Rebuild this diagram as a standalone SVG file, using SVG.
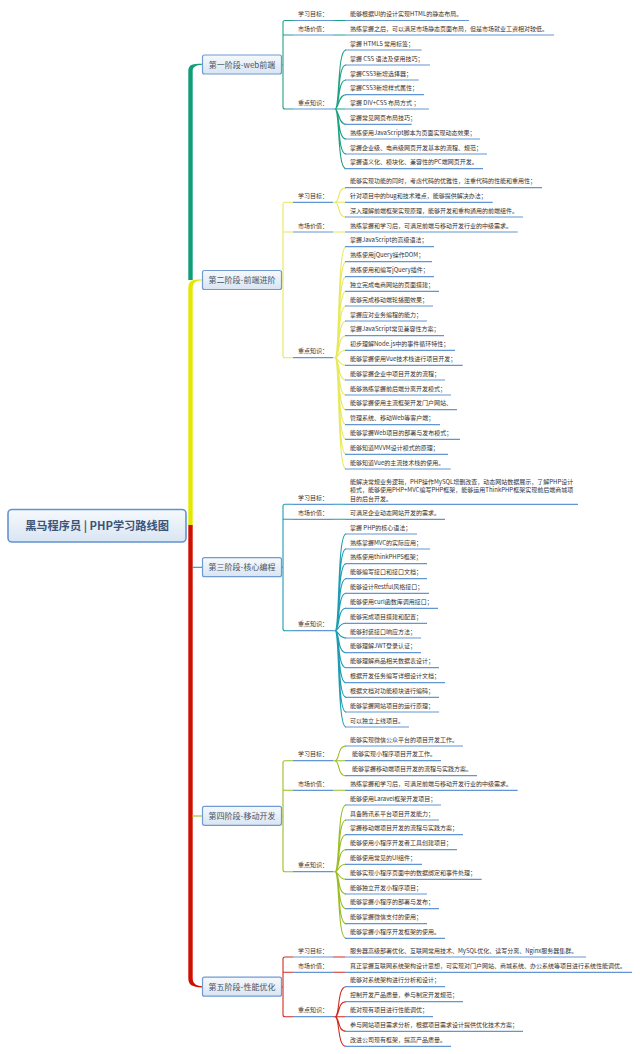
<svg xmlns="http://www.w3.org/2000/svg" width="640" height="1054" viewBox="0 0 640 1054">
<defs>
<linearGradient id="gn" x1="0" y1="0" x2="0" y2="1"><stop offset="0" stop-color="#f6f9fc"/><stop offset="1" stop-color="#d9e5f3"/></linearGradient>
</defs>
<style>
text{font-family:"Noto Sans CJK SC","Liberation Sans",sans-serif;font-size:6px;fill:#333}
.st{font-size:8px;fill:#44546a;text-anchor:middle}
.root{font-size:11.2px;font-weight:700;fill:#3b5478;text-anchor:middle}
.u{fill:none;stroke:#6295d4;stroke-width:1.2}
.box{fill:url(#gn);stroke:#6f9ad2;stroke-width:1.2}
.c{fill:none;stroke-width:1.1}
.c1{stroke:#1fa283}.c2{stroke:#e8e85c}.c3{stroke:#1c9db3}.c4{stroke:#9dbd24}.c5{stroke:#cf2a22}
</style>
<g id="connectors">
<path fill="#0f9e78" d="M202 63.8C195 63.8 188.3 63.5 188.3 71V280H192.7V71C192.7 67 196 65 202 64.8Z"/>
<path fill="#e4e800" d="M202 279.6C196 279.6 188.3 279 188.3 288V525H192.7V288C192.7 283 196 280.6 202 280.6Z"/>
<path fill="#cf1000" d="M188.3 525V978C188.3 985 192 987 202 987.4V986.2C196 985.6 192.7 984 192.7 978V525Z"/>
<path class="c c3" d="M192 567.3H202"/>
<path class="c c4" d="M192 816C196 816 198 816 202 816"/>
<g class="c c1">
<path d="M282 65H283M293 20.5H285Q283 20.5 283 22.5V107Q283 109 285 109H293M283 35H293M333 20.5H345M333 35H345"/>
<path d="M333 109H345M335 109C340 109 337 50 346 50M335 109C340 109 337 65 346 65M335 109C340 109 337 80 346 80M335 109C339 109 338 94.7 346 94.7M335 109C339 109 338 124.3 346 124.3M335 109C340 109 337 139 346 139M335 109C340 109 337 154 346 154M335 109C340 109 337 168.7 346 168.7"/>
</g>
<g class="c c2">
<path d="M282 280H283M293 202.3H285Q283 202.3 283 204.3V355.7Q283 357.7 285 357.7H293M283 232H293M333 232H345M333 202.3H345"/>
<path d="M335 202.3C340 202.3 337 187.7 346 187.7M335 202.3C340 202.3 337 217 346 217"/>
<path d="M333 357.7H336M335 357.7C340 357.7 337 246.7 346 246.7M335 357.7C340 357.7 337 261.7 346 261.7M335 357.7C340 357.7 337 276.7 346 276.7M335 357.7C340 357.7 337 291.3 346 291.3M335 357.7C340 357.7 337 306 346 306M335 357.7C340 357.7 337 321 346 321M335 357.7C340 357.7 337 335.7 346 335.7M335 357.7C339 357.7 338 350.3 346 350.3M335 357.7C339 357.7 338 365.3 346 365.3M335 357.7C340 357.7 337 380 346 380M335 357.7C340 357.7 337 395 346 395M335 357.7C340 357.7 337 409.7 346 409.7M335 357.7C340 357.7 337 424.7 346 424.7M335 357.7C340 357.7 337 439.3 346 439.3M335 357.7C340 357.7 337 454.3 346 454.3M335 357.7C340 357.7 337 469 346 469"/>
</g>
<g class="c c3">
<path d="M282 567.3H283M293 504.3H285Q283 504.3 283 506.3V628.7Q283 630.7 285 630.7H293M283 519.3H293M333 504.3H345M333 519.3H345"/>
<path d="M333 630.7H336M335 630.7C340 630.7 337 534 346 534M335 630.7C340 630.7 337 549 346 549M335 630.7C340 630.7 337 563.7 346 563.7M335 630.7C340 630.7 337 578.7 346 578.7M335 630.7C340 630.7 337 593.3 346 593.3M335 630.7C340 630.7 337 608.3 346 608.3M335 630.7C339 630.7 338 623.3 346 623.3M335 630.7C339 630.7 338 638 346 638M335 630.7C340 630.7 337 652.7 346 652.7M335 630.7C340 630.7 337 667.7 346 667.7M335 630.7C340 630.7 337 682.7 346 682.7M335 630.7C340 630.7 337 697.3 346 697.3M335 630.7C340 630.7 337 712 346 712M335 630.7C340 630.7 337 727 346 727"/>
</g>
<g class="c c4">
<path d="M282 816H283M293 760.7H285Q283 760.7 283 762.7V869.7Q283 871.7 285 871.7H293M283 790.3H293M333 760.7H345M333 790.3H345"/>
<path d="M335 760.7C340 760.7 337 746 346 746M335 760.7C340 760.7 337 775.7 346 775.7"/>
<path d="M333 871.7H336M335 871.7C340 871.7 337 805 346 805M335 871.7C340 871.7 337 820 346 820M335 871.7C340 871.7 337 834.7 346 834.7M335 871.7C340 871.7 337 849.7 346 849.7M335 871.7C339 871.7 338 864.3 346 864.3M335 871.7C339 871.7 338 879.3 346 879.3M335 871.7C340 871.7 337 894 346 894M335 871.7C340 871.7 337 908.7 346 908.7M335 871.7C340 871.7 337 923.7 346 923.7M335 871.7C340 871.7 337 938.3 346 938.3"/>
</g>
<g class="c c5">
<path d="M282 987H283M293 957H285Q283 957 283 959V1014.7Q283 1016.7 285 1016.7H293M283 972.3H293M333 957H345M333 972.3H345"/>
<path d="M333 1016.7H345M335 1016.7C340 1016.7 337 986.7 346 986.7M335 1016.7C340 1016.7 337 1001.7 346 1001.7M335 1016.7C340 1016.7 337 1031.3 346 1031.3M335 1016.7C340 1016.7 337 1046.3 346 1046.3"/>
</g>
</g>
<g id="root"><rect x="8" y="509.5" width="178" height="32.5" rx="4" fill="url(#gn)" stroke="#6293d0" stroke-width="1.6"/><text class="root" x="97" y="530">黑马程序员 | PHP学习路线图</text></g>

<g id="s1"><rect class="box" x="202.5" y="55" width="79" height="19" rx="2"/><text class="st" x="242" y="67.8">第一阶段-web前端</text></g>
<g id="s1-goal"><text x="298" y="16.2">学习目标：</text><path class="u" d="M293 20.5H333"/></g>
<g id="s1-goal-1"><text x="350" y="16.2">能够根据UI的设计实现HTML的静态布局。</text><path class="u" d="M345 20.5H469"/></g>
<g id="s1-market"><text x="298" y="30.7">市场价值：</text><path class="u" d="M293 35H333"/></g>
<g id="s1-market-1"><text x="350" y="30.7">熟练掌握之后，可以满足市场静态页面布局，但是市场就业工资相对较低。</text><path class="u" d="M345 35H554"/></g>
<g id="s1-key"><text x="298" y="104.7">重点知识：</text><path class="u" d="M293 109H333"/></g>
<g id="s1-k1"><text x="350" y="45.7">掌握 HTML5 常用标签；</text><path class="u" d="M345 50H421.7"/></g>
<g id="s1-k2"><text x="350" y="60.7">掌握 CSS 语法及使用技巧；</text><path class="u" d="M345 65H430"/></g>
<g id="s1-k3"><text x="350" y="75.7">掌握CSS3新增选择器；</text><path class="u" d="M345 80H418.7"/></g>
<g id="s1-k4"><text x="350" y="90.4">掌握CSS3新增样式属性；</text><path class="u" d="M345 94.7H424"/></g>
<g id="s1-k5"><text x="350" y="104.7">掌握 DIV+CSS 布局方式 ；</text><path class="u" d="M345 109H429"/></g>
<g id="s1-k6"><text x="350" y="120">掌握常见网页布局技巧；</text><path class="u" d="M345 124.3H411.7"/></g>
<g id="s1-k7"><text x="350" y="134.7">熟练使用JavaScript脚本为页面实现动态效果；</text><path class="u" d="M345 139H480"/></g>
<g id="s1-k8"><text x="350" y="149.7">掌握企业级、电商级网页开发基本的流程、规范；</text><path class="u" d="M345 154H487"/></g>
<g id="s1-k9"><text x="350" y="164.4">掌握语义化、模块化、兼容性的PC端网页开发。</text><path class="u" d="M345 168.7H483"/></g>

<g id="s2"><rect class="box" x="202.5" y="270.5" width="79" height="19" rx="2"/><text class="st" x="242" y="283">第二阶段-前端进阶</text></g>
<g id="s2-goal"><text x="298" y="198">学习目标：</text><path class="u" d="M293 202.3H333"/></g>
<g id="s2-goal-1"><text x="350" y="183.4">能够实现功能的同时，考虑代码的优雅性，注重代码的性能和重用性；</text><path class="u" d="M345 187.7H542"/></g>
<g id="s2-goal-2"><text x="350" y="198">针对项目中的bug和技术难点，能够提供解决办法；</text><path class="u" d="M345 202.3H492.7"/></g>
<g id="s2-goal-3"><text x="350" y="212.7">深入理解前端框架实现原理，能够开发和重构通用的前端组件。</text><path class="u" d="M345 217H523"/></g>
<g id="s2-market"><text x="298" y="227.7">市场价值：</text><path class="u" d="M293 232H333"/></g>
<g id="s2-market-1"><text x="350" y="227.7">熟练掌握和学习后，可满足前端与移动开发行业的中级需求。</text><path class="u" d="M345 232H517.7"/></g>
<g id="s2-key"><text x="298" y="353.4">重点知识：</text><path class="u" d="M293 357.7H333"/></g>
<g id="s2-k1"><text x="350" y="242.4">掌握JavaScript的高级语法；</text><path class="u" d="M345 246.7H434"/></g>
<g id="s2-k2"><text x="350" y="257.4">熟练使用jQuery操作DOM；</text><path class="u" d="M345 261.7H432"/></g>
<g id="s2-k3"><text x="350" y="272.4">熟练使用和编写jQuery插件；</text><path class="u" d="M345 276.7H434"/></g>
<g id="s2-k4"><text x="350" y="287">独立完成电商网站的页面搭建；</text><path class="u" d="M345 291.3H439"/></g>
<g id="s2-k5"><text x="350" y="301.7">能够完成移动端轮播图效果；</text><path class="u" d="M345 306H433"/></g>
<g id="s2-k6"><text x="350" y="316.7">掌握应对业务编程的能力；</text><path class="u" d="M345 321H427"/></g>
<g id="s2-k7"><text x="350" y="331.4">掌握JavaScript常见兼容性方案；</text><path class="u" d="M345 335.7H444"/></g>
<g id="s2-k8"><text x="350" y="346">初步理解Node.js中的事件循环特性；</text><path class="u" d="M345 350.3H455"/></g>
<g id="s2-k9"><text x="350" y="361">能够掌握使用Vue技术栈进行项目开发；</text><path class="u" d="M345 365.3H462.7"/></g>
<g id="s2-k10"><text x="350" y="375.7">能够掌握企业中项目开发的流程；</text><path class="u" d="M345 380H445"/></g>
<g id="s2-k11"><text x="350" y="390.7">能够熟练掌握前后端分离开发模式；</text><path class="u" d="M345 395H451"/></g>
<g id="s2-k12"><text x="350" y="405.4">能够掌握使用主流框架开发门户网站、</text><path class="u" d="M345 409.7H457"/></g>
<g id="s2-k13"><text x="350" y="420.4">管理系统、移动Web等客户端；</text><path class="u" d="M345 424.7H440"/></g>
<g id="s2-k14"><text x="350" y="435">能够掌握Web项目的部署与发布模式；</text><path class="u" d="M345 439.3H460"/></g>
<g id="s2-k15"><text x="350" y="450">能够知道MVVM设计模式的原理；</text><path class="u" d="M345 454.3H448"/></g>
<g id="s2-k16"><text x="350" y="464.7">能够知道Vue的主流技术栈的使用。</text><path class="u" d="M345 469H450.7"/></g>

<g id="s3"><rect class="box" x="202.5" y="557.7" width="79" height="19" rx="2"/><text class="st" x="242" y="570.2">第三阶段-核心编程</text></g>
<g id="s3-goal"><text x="298" y="500">学习目标：</text><path class="u" d="M293 504.3H333"/></g>
<g id="s3-goal-1"><text x="350" y="483.7">能解决常规业务逻辑，PHP操作MySQL增删改查，动态网站数据展示，了解PHP设计</text><text x="350" y="492">模式，能够使用PHP+MVC编写PHP框架，能够运用ThinkPHP框架实现前后端商城项</text><text x="350" y="500.5">目的后台开发。</text><path class="u" d="M345 504.3H578"/></g>
<g id="s3-market"><text x="298" y="515">市场价值：</text><path class="u" d="M293 519.3H333"/></g>
<g id="s3-market-1"><text x="350" y="515">可满足企业动态网站开发的需求。</text><path class="u" d="M345 519.3H445"/></g>
<g id="s3-key"><text x="298" y="626.4">重点知识：</text><path class="u" d="M293 630.7H333"/></g>
<g id="s3-k1"><text x="350" y="529.7">掌握 PHP的核心语法；</text><path class="u" d="M345 534H417"/></g>
<g id="s3-k2"><text x="350" y="544.7">熟练掌握MVC的实际应用；</text><path class="u" d="M345 549H430"/></g>
<g id="s3-k3"><text x="350" y="559.4">熟练使用thinkPHP5框架；</text><path class="u" d="M345 563.7H427"/></g>
<g id="s3-k4"><text x="350" y="574.4">能够编写接口和接口文档；</text><path class="u" d="M345 578.7H427"/></g>
<g id="s3-k5"><text x="350" y="589">能够设计Restful风格接口；</text><path class="u" d="M345 593.3H429"/></g>
<g id="s3-k6"><text x="350" y="604">能够使用curl函数库调用接口；</text><path class="u" d="M345 608.3H438"/></g>
<g id="s3-k7"><text x="350" y="619">能够完成项目搭建和配置；</text><path class="u" d="M345 623.3H427"/></g>
<g id="s3-k8"><text x="350" y="633.7">能够封装接口响应方法；</text><path class="u" d="M345 638H421"/></g>
<g id="s3-k9"><text x="350" y="648.4">能够理解JWT登录认证；</text><path class="u" d="M345 652.7H421"/></g>
<g id="s3-k10"><text x="350" y="663.4">能够理解商品相关数据表设计；</text><path class="u" d="M345 667.7H439"/></g>
<g id="s3-k11"><text x="350" y="678.4">根据开发任务编写详细设计文档；</text><path class="u" d="M345 682.7H445"/></g>
<g id="s3-k12"><text x="350" y="693">根据文档对功能模块进行编码；</text><path class="u" d="M345 697.3H439"/></g>
<g id="s3-k13"><text x="350" y="707.7">能够掌握网站项目的运行原理；</text><path class="u" d="M345 712H439"/></g>
<g id="s3-k14"><text x="350" y="722.7">可以独立上线项目。</text><path class="u" d="M345 727H409"/></g>

<g id="s4"><rect class="box" x="202.5" y="806.3" width="79" height="19" rx="2"/><text class="st" x="242" y="818.8">第四阶段-移动开发</text></g>
<g id="s4-goal"><text x="298" y="756.4">学习目标：</text><path class="u" d="M293 760.7H333"/></g>
<g id="s4-goal-1"><text x="350" y="741.7">能够实现微信公众平台的项目开发工作。</text><path class="u" d="M345 746H463"/></g>
<g id="s4-goal-2"><text x="352" y="756.4">能够实现小程序项目开发工作。</text><path class="u" d="M345 760.7H441"/></g>
<g id="s4-goal-3"><text x="352" y="771.4">能够掌握移动端项目开发的流程与实践方案。</text><path class="u" d="M345 775.7H477"/></g>
<g id="s4-market"><text x="298" y="786">市场价值：</text><path class="u" d="M293 790.3H333"/></g>
<g id="s4-market-1"><text x="350" y="786">熟练掌握和学习后，可满足前端与移动开发行业的中级需求。</text><path class="u" d="M345 790.3H517.7"/></g>
<g id="s4-key"><text x="298" y="867.4">重点知识：</text><path class="u" d="M293 871.7H333"/></g>
<g id="s4-k1"><text x="350" y="800.7">能够使用Laravel框架开发项目；</text><path class="u" d="M345 805H441"/></g>
<g id="s4-k2"><text x="350" y="815.7">具备腾讯系平台项目开发能力；</text><path class="u" d="M345 820H439"/></g>
<g id="s4-k3"><text x="350" y="830.4">掌握移动端项目开发的流程与实践方案；</text><path class="u" d="M345 834.7H463"/></g>
<g id="s4-k4"><text x="350" y="845.4">能够使用小程序开发者工具创建项目；</text><path class="u" d="M345 849.7H457"/></g>
<g id="s4-k5"><text x="350" y="860">能够使用常见的UI组件；</text><path class="u" d="M345 864.3H422"/></g>
<g id="s4-k6"><text x="350" y="875">能够实现小程序页面中的数据绑定和事件处理；</text><path class="u" d="M345 879.3H481.7"/></g>
<g id="s4-k7"><text x="350" y="889.7">能够独立开发小程序项目；</text><path class="u" d="M345 894H427"/></g>
<g id="s4-k8"><text x="350" y="904.4">能够掌握小程序的部署与发布；</text><path class="u" d="M345 908.7H439"/></g>
<g id="s4-k9"><text x="350" y="919.4">能够掌握微信支付的使用；</text><path class="u" d="M345 923.7H427"/></g>
<g id="s4-k10"><text x="350" y="934">能够掌握小程序开发框架的使用。</text><path class="u" d="M345 938.3H445"/></g>

<g id="s5"><rect class="box" x="202.5" y="977.2" width="79" height="19" rx="2"/><text class="st" x="242" y="989.7">第五阶段-性能优化</text></g>
<g id="s5-goal"><text x="298" y="952.7">学习目标：</text><path class="u" d="M293 957H333"/></g>
<g id="s5-goal-1"><text x="350" y="952.7">服务器高级部署优化、互联网常用技术、MySQL优化、读写分离、Nginx服务器集群。</text><path class="u" d="M345 957H586"/></g>
<g id="s5-market"><text x="298" y="968">市场价值：</text><path class="u" d="M293 972.3H333"/></g>
<g id="s5-market-1"><text x="350" y="968">真正掌握互联网系统架构设计思想，可实现对门户网站、商城系统、办公系统等项目进行系统性能调优。</text><path class="u" d="M345 972.3H632"/></g>
<g id="s5-key"><text x="298" y="1012.4">重点知识：</text><path class="u" d="M293 1016.7H333"/></g>
<g id="s5-k1"><text x="350" y="982.4">能够对系统架构进行分析和设计；</text><path class="u" d="M345 986.7H445"/></g>
<g id="s5-k2"><text x="350" y="997.4">控制开发产品质量，参与制定开发规范；</text><path class="u" d="M345 1001.7H463"/></g>
<g id="s5-k3"><text x="350" y="1012.4">能对现有项目进行性能调优；</text><path class="u" d="M345 1016.7H433"/></g>
<g id="s5-k4"><text x="350" y="1027">参与网站项目需求分析，根据项目需求设计提供优化技术方案；</text><path class="u" d="M345 1031.3H523"/></g>
<g id="s5-k5"><text x="350" y="1042">改进公司现有框架，提高产品质量。</text><path class="u" d="M345 1046.3H451"/></g>
</svg>
